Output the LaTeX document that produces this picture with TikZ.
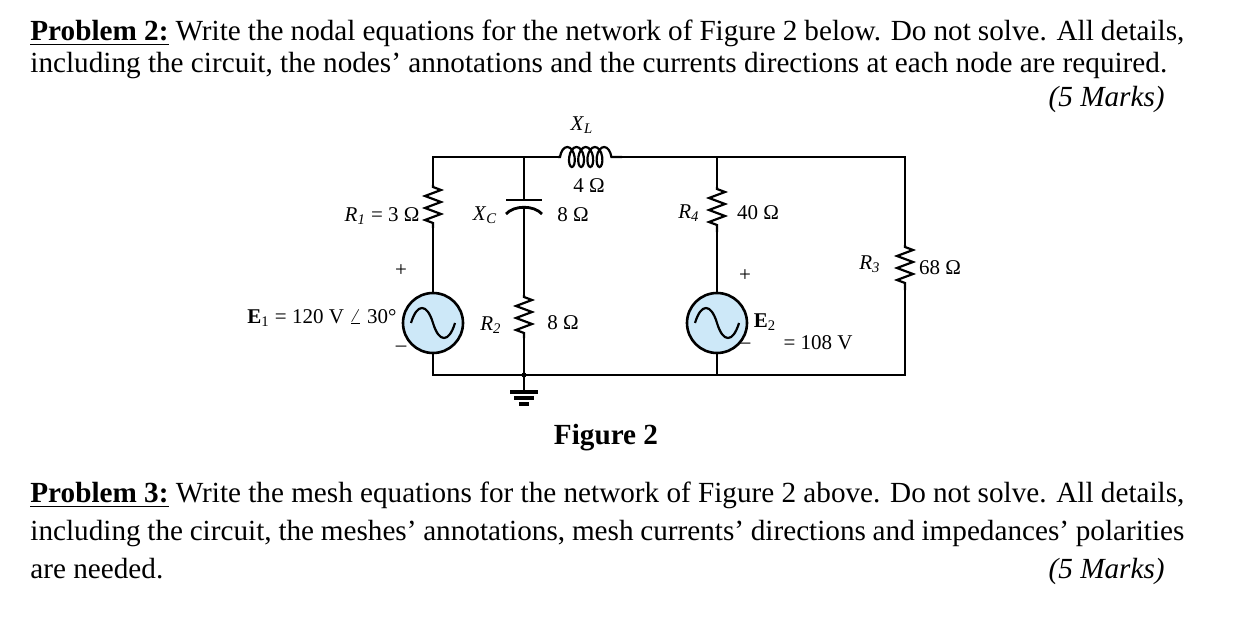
\documentclass[tikz,border=0pt]{standalone}
\usepackage{fontspec}
\setmainfont{Liberation Serif}
\usetikzlibrary{decorations.pathmorphing,decorations.pathreplacing}
\definecolor{srcfill}{RGB}{205,232,248}
\newcommand{\vi}[2]{\textit{#1}\textsubscript{\textit{#2}}}
\begin{document}
\begin{tikzpicture}[x=0.5pt,y=-0.5pt,
  wire/.style={line width=1.1pt},
  res/.style={wire,decorate,decoration={zigzag,segment length=6pt,amplitude=4pt,pre length=1pt,post length=1pt}},
  src/.style={circle,draw,line width=1.3pt,fill=srcfill,minimum size=30pt,inner sep=0pt},
  lab/.style={font=\fontsize{10.5}{12}\selectfont,inner sep=1pt},
  body/.style={font=\fontsize{14.6}{16}\selectfont,inner sep=0pt,anchor=north west,text width=577pt,align=justify}]
\useasboundingbox (0,0) rectangle (1238,626);
% text
\node[body] (t1) at (30,20) {\textbf{\underline{Problem 2:}} Write the nodal equations for the network of Figure 2 below. Do not solve. All details,\linebreak including the circuit, the nodes’ annotations and the currents directions at each node are required.};
\node[font=\fontsize{14.6}{16}\selectfont\itshape,anchor=base east,inner sep=0pt] (m1) at (1165,107) {(5 Marks)};
\node[font=\fontsize{14.6}{16}\selectfont\bfseries,anchor=base,inner sep=0pt] (fig) at (606,444) {Figure 2};
\node[body,font=\fontsize{14.6}{19}\selectfont] (t3) at (30,482) {\textbf{\underline{Problem 3:}} Write the mesh equations for the network of Figure 2 above. Do not solve. All details,\linebreak including the circuit, the meshes’ annotations, mesh currents’ directions and impedances’ polarities\linebreak are needed.};
\node[font=\fontsize{14.6}{16}\selectfont\itshape,anchor=base east,inner sep=0pt] (m3) at (1165,578) {(5 Marks)};
% junctions
\coordinate (tl) at (433,157); \coordinate (tm) at (524,157); \coordinate (t4) at (717,157); \coordinate (tr) at (905,157);
\coordinate (bl) at (433,375); \coordinate (bm) at (524,375); \coordinate (b4) at (717,375); \coordinate (br) at (905,375);
\coordinate (r1a) at (433,185); \coordinate (r1b) at (433,228);
\coordinate (la) at (558,157); \coordinate (lb) at (622,157);
\coordinate (ca) at (524,200); \coordinate (cb) at (524,207);
\coordinate (r2a) at (524,295); \coordinate (r2b) at (524,338);
\coordinate (r4a) at (717,187); \coordinate (r4b) at (717,232);
\coordinate (r3a) at (905,245); \coordinate (r3b) at (905,290);
\coordinate (g) at (524,392);
\node[src] (e1) at (433,323) {};
\node[src] (e2) at (717,323) {};
\foreach \e in {e1,e2}
  \draw[line width=1.1pt] ([xshift=-11pt]\e.center) .. controls ([xshift=-8pt,yshift=10pt]\e.center) and ([xshift=-3pt,yshift=10pt]\e.center) .. (\e.center) .. controls ([xshift=3pt,yshift=-10pt]\e.center) and ([xshift=8pt,yshift=-10pt]\e.center) .. ([xshift=11pt]\e.center);
% wires
\draw[wire] (r1a) -- (tl) -- (tm) -- (la);
\draw[wire] (lb) -- (t4) -- (tr) -- (r3a);
\draw[wire] (r1b) -- (e1.north);
\draw[wire] (e1.south) -- (bl) -- (bm) -- (b4) -- (br) -- (r3b);
\draw[wire] (tm) -- (ca); \draw[wire] (cb) -- (r2a); \draw[wire] (r2b) -- (bm) -- (g);
\draw[wire] (t4) -- (r4a); \draw[wire] (r4b) -- (e2.north); \draw[wire] (e2.south) -- (b4);
\fill (bm) circle (2.5);
% components
\draw[res] (r1a) -- (r1b);
\draw[res] (r2a) -- (r2b);
\draw[res] (r4a) -- (r4b);
\draw[res] (r3a) -- (r3b);
\draw[wire,decorate,decoration={coil,aspect=0.5,segment length=4.6pt,amplitude=5pt,pre length=1pt,post length=1pt}] (la) -- (lb);
\draw[wire,line width=1.4pt] (506,200) -- (542,200);
\draw[wire,line width=1.4pt] (506,214) .. controls (514,205) and (534,205) .. (542,214);
% ground
\draw[wire,line width=1.6pt] (510,392) -- (538,392);
\draw[wire,line width=1.6pt] (514,398) -- (534,398);
\draw[wire,line width=1.6pt] (519,404) -- (529,404);
% labels
\node[lab] (lxl) at (582,125) {\vi{X}{L}};
\node[lab] (l4) at (589,186) {4 Ω};
\node[lab,anchor=east] (lr1) at (422,216) {\vi{R}{1} = 3 Ω};
\node[lab] (lxc) at (485,215) {\vi{X}{C}};
\node[lab] (lc8) at (573,215) {8 Ω};
\node[lab] (p1) at (401,271) {+};
\node[lab,anchor=east] (le1) at (399,318) {\textbf{E}\textsubscript{1} = 120 V $\angle$ 30°};
\node[lab] (n1) at (401,349) {–};
\node[lab] (lr2) at (491,325) {\vi{R}{2}};
\node[lab] (l8) at (563,323) {8 Ω};
\node[lab] (lr4) at (689,213) {\vi{R}{4}};
\node[lab] (l40) at (758,213) {40 Ω};
\node[lab] (p2) at (745,276) {+};
\node[lab] (le2) at (765,322) {\textbf{E}\textsubscript{2}};
\node[lab] (lv2) at (818,343) {= 108 V};
\node[lab] (n2) at (745,346) {–};
\node[lab] (lr3) at (870,264) {\vi{R}{3}};
\node[lab] (l68) at (940,268) {68 Ω};
\end{tikzpicture}
\end{document}
